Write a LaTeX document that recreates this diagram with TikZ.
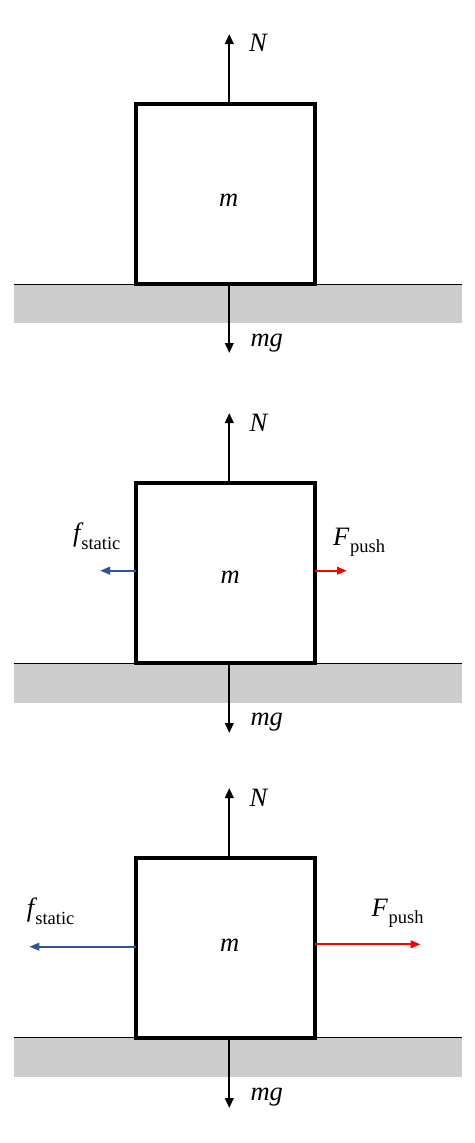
\documentclass[tikz,border=0pt]{standalone}
\usepackage{fontspec}
\setmainfont{Liberation Serif}
\usetikzlibrary{arrows.meta}
\definecolor{groundgray}{RGB}{206,205,206}
\definecolor{fblue}{RGB}{47,85,151}
\definecolor{pred}{RGB}{255,0,0}
\newcommand{\mainsz}{\fontsize{26.5}{27}\selectfont}
\newcommand{\subsz}{\fontsize{18.5}{19}\selectfont}
\newcommand{\fstat}{{\itshape f}\kern1pt\raisebox{-8pt}{\subsz static}}
\newcommand{\Fpush}{{\itshape F}\kern1pt\raisebox{-7pt}{\subsz push}}
\begin{document}
\begin{tikzpicture}[x=1pt,y=-1pt,
  block/.style={draw, line width=4pt, fill=white, minimum width=179.6pt, minimum height=180pt, inner sep=0pt, outer sep=0pt},
  lbl/.style={anchor=base west, inner sep=0pt, outer sep=0pt, font=\mainsz},
  force/.style={line width=2.2pt, -{Triangle[length=10pt,width=8.5pt]}},
  side/.style={line width=2.2pt, -{Triangle[length=10pt,width=7.5pt]}},
  groundfill/.style={fill=groundgray},
  groundline/.style={line width=1pt}]
\useasboundingbox (0,0) rectangle (474,1143);
\fill[white] (0,0) rectangle (474,1143);

% ---------- Panel 1 ----------
\fill[groundfill] (14,284.3) rectangle (462,323);
\draw[groundline] (14,284.3) -- (462,284.3);
\node[block] (b1) at (225.5,194.2) {};
\node[lbl] (m1) at (219,206) {\itshape m};
\coordinate (n1) at (229.3,34);
\coordinate (g1) at (229.3,353);
\draw[force] (b1.north -| n1) -- (n1);
\draw[force] (b1.south -| g1) -- (g1);
\node[lbl] (N1) at (249,51.7) {\itshape N};
\node[lbl] (mg1) at (250.5,346) {\itshape mg};

% ---------- Panel 2 ----------
\fill[groundfill] (14,663.3) rectangle (462,703);
\draw[groundline] (14,663.3) -- (462,663.3);
\node[block] (b2) at (225.5,573.3) {};
\node[lbl] (m2) at (220.5,583.3) {\itshape m};
\coordinate (n2) at (229.3,413);
\coordinate (g2) at (229.3,733);
\coordinate (f2) at (100,570.7);
\coordinate (p2) at (347,570.7);
\draw[force] (b2.north -| n2) -- (n2);
\draw[force] (b2.south -| g2) -- (g2);
\draw[side, fblue] (f2 -| b2.west) -- (f2);
\draw[side, pred] (p2 -| b2.east) -- (p2);
\node[lbl] (N2) at (249.5,431.7) {\itshape N};
\node[lbl] (mg2) at (250.5,725) {\itshape mg};
\node[lbl] (fs2) at (73,541) {\fstat};
\node[lbl] (fp2) at (333,545) {\Fpush};

% ---------- Panel 3 ----------
\fill[groundfill] (14,1037.7) rectangle (462,1077.3);
\draw[groundline] (14,1037.7) -- (462,1037.7);
\node[block] (b3) at (225.5,948) {};
\node[lbl] (m3) at (220,951.7) {\itshape m};
\coordinate (n3) at (229.3,788);
\coordinate (g3) at (229.3,1108);
\coordinate (f3) at (29.3,946.7);
\coordinate (p3) at (420.7,944.3);
\draw[force] (b3.north -| n3) -- (n3);
\draw[force] (b3.south -| g3) -- (g3);
\draw[side, fblue] (f3 -| b3.west) -- (f3);
\draw[side, pred] (p3 -| b3.east) -- (p3);
\node[lbl] (N3) at (249.5,806) {\itshape N};
\node[lbl] (mg3) at (250.5,1100) {\itshape mg};
\node[lbl] (fs3) at (27,916.5) {\fstat};
\node[lbl] (fp3) at (371.5,916.7) {\Fpush};
\end{tikzpicture}
\end{document}
